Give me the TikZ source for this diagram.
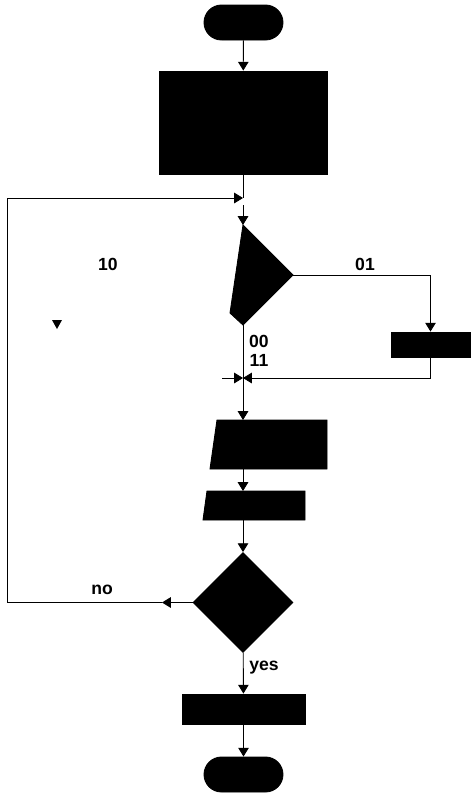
\documentclass[tikz,border=0pt]{standalone}
\usepackage{fontspec}
\setmainfont{Liberation Sans}
\usetikzlibrary{arrows.meta,shapes.geometric}

\tikzset{
  term/.style={draw, fill=black, rounded corners=0.35cm, minimum width=1.58cm, minimum height=0.7cm, inner sep=0pt},
  blk/.style={draw, fill=black, inner sep=0pt},
  test/.style={draw, fill=black, diamond, minimum width=2cm, minimum height=2cm, inner sep=0pt},
  lbl/.style={inner sep=0pt}
}

\begin{document}
\begin{tikzpicture}[x=0.02cm, y=-0.02cm, line width=0.5pt,
    >={Triangle[length=5pt,width=6pt]},
    font=\fontsize{10}{12}\selectfont\bfseries]
            \useasboundingbox (0,0) rectangle (474,795);

            % start
            \node[term](start) at (243.5,22.5){};
            \node[blk, minimum width=3.36cm, minimum height=2.06cm](init) at (243,122.5){};
            \coordinate(join) at (243,198);
            \path[draw,->](start) to (init);
            \path[draw](init) to (join);

            % case
            \coordinate(casein) at (243,205);
            \coordinate(ctop) at (243,225);
            \coordinate(cright) at (293,275);
            \coordinate(cbot) at (243,325);
            \coordinate(cleft) at (230,313);
            \path[draw, fill=black](ctop) -- (cright) -- (cbot) -- (cleft) -- cycle;
            \path[draw,->](casein) to (ctop);

            % 10
            \node[lbl](lbl10) at (108,264){10};
            \coordinate(tri10) at (57,329);
            \fill(52,320) -- (62,320) -- (tri10) -- cycle;

            % 01
            \node[blk, minimum width=1.58cm, minimum height=0.5cm](sub) at (430.5,344.5){};
            \node[lbl](lbl01) at (365,264){01};
            \coordinate(merge) at (243,378);
            \coordinate(mergel) at (222,378);
            \path[draw,->](cright) -| (sub);
            \path[draw,->](sub) |- (merge);
            \path[draw,->](mergel) to (merge);

            % 00 11
            \node[lbl](lbl00) at (259,341){00};
            \node[lbl](lbl11) at (259,360){11};

            % input
            \coordinate(p1top) at (243,420);
            \coordinate(p1bot) at (243,469);
            \path[draw, fill=black](217,420) -- (327,420) -- (327,469) -- (210,469) -- cycle;
            \path[draw,->](cbot) to (p1top);

            \coordinate(p2top) at (243,491);
            \coordinate(p2bot) at (243,520);
            \path[draw, fill=black](207,491) -- (305,491) -- (305,520) -- (203,520) -- cycle;
            \path[draw,->](p1bot) to (p2top);

            % test
            \node[test](check) at (243,602.5){};
            \path[draw,->](p2bot) to (check);

            % no
            \coordinate(noend) at (162,602.5);
            \coordinate(loopA) at (7,602.5);
            \coordinate(loopB) at (7,198);
            \node[lbl](lblno) at (102,590){no};
            \path[draw,->](check) to (noend);
            \path[draw,->](noend) -- (loopA) -- (loopB) -- (join);

            % yes
            \node[lbl](lblyes) at (264,668){yes};
            \node[blk, minimum width=2.46cm, minimum height=0.6cm](fin) at (243.5,709){};
            \node[term](stop) at (243.5,774.5){};
            \path[draw,->](check) to (fin);
            \path[draw,->](fin) to (stop);
        \end{tikzpicture}
\end{document}
